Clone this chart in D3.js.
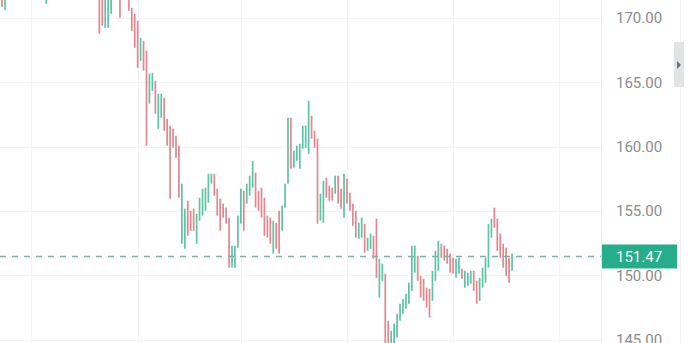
<!DOCTYPE html>
<html>
<head>
<meta charset="utf-8">
<script src="https://cdn.jsdelivr.net/npm/d3@7"></script>
<style>
  html, body { margin: 0; padding: 0; background: #fff; }
  svg { display: block; font-family: Roboto, "Noto Sans", sans-serif; }
</style>
</head>
<body>
<div id="chart"></div>
<script>
// price bars, oldest first (the first ~40 bars sit mostly above the visible range)
const highs = [
  171.8, 171.6,
  172.6, 173.0, 173.4, 173.1, 172.8, 173.3, 173.7, 174.0, 173.6, 173.2, 172.9, 172.5, 172.3,
  172.0,
  172.4, 172.9, 173.3, 173.6, 173.2, 172.8, 173.1, 173.5, 173.9, 173.4, 173.0, 172.6, 172.9, 173.2, 172.8, 172.5, 172.2,
  171.9, 171.7, 172.0, 171.8, 171.9, 172.4, 172.5, 171.8, 172.2, 172.3, 171.6,
  170.78, 170.31, 169.77, 168.45, 168.21, 167.44, 165.65, 165.73, 165.11, 164.10, 164.10, 163.79, 162.16, 161.62, 161.39, 160.84, 160.07, 157.12, 155.18, 155.80, 155.02, 155.18,
  154.79, 156.03, 156.73, 156.81, 157.89, 157.89, 157.89, 156.73, 155.96, 155.57, 155.26, 154.48, 152.31, 152.31, 154.64, 156.73, 156.57, 157.12, 157.74, 158.90, 157.97, 156.57, 156.81, 156.03, 154.64, 154.48, 154.24, 154.09, 155.02, 155.41, 157.12, 162.24, 162.24, 159.68, 160.07, 160.22,
  161.62, 161.62, 163.56, 162.39, 161.23, 160.61, 156.34, 157.35, 157.58, 156.96, 156.81, 157.74, 157.74, 156.73, 157.89, 157.51, 156.42, 155.57, 155.02, 154.09, 154.48, 154.01, 152.93, 153.24, 153.08, 154.40, 151.29, 150.91, 150.13, 146.48, 145.70, 146.25, 147.02,
  147.80, 148.18, 148.57, 149.43, 152.31, 152.31, 151.53, 149.97, 149.74, 149.04, 148.97, 150.36, 151.91, 152.69, 152.46, 152.31, 152.07, 151.69, 151.37, 151.29, 151.37, 150.52, 150.36, 150.21, 150.36, 150.36, 149.58, 149.82, 150.60, 151.37, 154.01, 154.40, 155.26, 154.40, 153.24, 152.46, 152.15, 151.37, 151.69
];
const lows = [
  170.85, 170.62,
  171.6, 172.0, 172.3, 172.2, 171.9, 172.3, 172.7, 173.0, 172.6, 172.2, 171.9, 171.6, 171.5,
  171.09,
  171.5, 171.9, 172.3, 172.6, 172.2, 171.8, 172.1, 172.5, 172.8, 172.4, 172.0, 171.7, 171.9, 172.2, 171.8, 171.6, 171.5,
  168.76, 169.38, 169.22, 169.22, 170.31, 171.5, 171.6, 170.0, 171.4, 171.5, 170.54,
  168.99, 167.67, 166.12, 166.66, 165.89, 160.07, 163.33, 164.33, 162.55, 161.39, 162.24, 161.23, 160.07, 155.96, 159.91, 159.13, 156.03, 152.46, 152.07, 153.08, 153.47, 153.47,
  152.46, 154.24, 154.64, 155.02, 155.65, 157.12, 156.19, 154.64, 153.47, 154.48, 154.02, 150.60, 150.60, 150.60, 152.15, 154.02, 153.47, 155.57, 156.19, 156.81, 155.26, 155.02, 154.48, 153.08, 152.93, 152.46, 151.69, 152.07, 151.69, 153.47, 155.26, 157.12, 158.28, 158.36, 158.90, 158.28,
  159.83, 159.91, 159.44, 160.61, 159.91, 154.01, 154.24, 154.09, 156.03, 155.80, 155.80, 156.34, 155.57, 155.18, 154.48, 155.57, 155.02, 153.85, 152.93, 152.85, 152.93, 151.76, 151.91, 152.07, 151.29, 149.81, 148.27, 149.58, 144.40, 144.10, 144.20, 144.50, 145.17,
  146.48, 147.02, 147.41, 147.80, 148.80, 150.21, 149.58, 148.27, 148.03, 147.49, 146.72, 148.03, 149.58, 150.36, 151.37, 151.14, 150.91, 150.21, 150.14, 149.82, 150.14, 149.74, 149.04, 149.20, 149.36, 148.80, 147.80, 148.03, 149.04, 149.43, 150.60, 152.93, 153.70, 151.91, 151.37, 150.60, 149.97, 149.43, 150.36
];
// g = closed up, r = closed down
const dirs = ("rg" + "grgrgrgrgrgrg" + "g" + "rgrgrgrgrgrgrgrgr" + "rrgggrrrgrr" +
  "rrrgrrggrggrrrrrrggrr" + "r" +
  "ggggggrrrrrrggggrgggrrrrrrgrrggg" + "rggg" +
  "gggrrrggrrrgrrgrrrrggrggrrggrrggg" +
  "ggggggrrrrrgggrrrrrggrgggrrgggggrrrrrrg").split("");

const lastPrice = 151.47;
const yTicks = [145, 150, 155, 160, 165, 170];
const timeGrid = [10, 46, 81, 117, 153, 189]; // bar index of the vertical grid lines

const W = 688, H = 343, plotRight = 601;

const svg = d3.select("#chart").append("svg")
  .attr("width", W).attr("height", H);

let x = d3.scaleLinear().domain([0, highs.length - 1]).range([2, 512]);
let y = d3.scaleLinear().domain([145, 170]).range([339.8, 17.8]);

svg.append("clipPath").attr("id", "plot")
  .append("rect").attr("x", 0).attr("y", 0).attr("width", plotRight).attr("height", H);

const plot = svg.append("g").attr("clip-path", "url(#plot)");

// grid
plot.selectAll(".hgrid").data(yTicks).enter().append("line")
  .attr("x1", 0).attr("x2", plotRight)
  .attr("y1", d => Math.round(y(d)) + 0.5).attr("y2", d => Math.round(y(d)) + 0.5)
  .attr("stroke", "#f2f3f5");
plot.selectAll(".vgrid").data(timeGrid).enter().append("line")
  .attr("x1", d => Math.round(x(d)) + 0.5).attr("x2", d => Math.round(x(d)) + 0.5)
  .attr("y1", 0).attr("y2", H)
  .attr("stroke", "#f2f3f5");

// bars
const bars = highs.map((h, i) => ({ i: i, high: h, low: lows[i], up: dirs[i] === "g" }));
plot.selectAll(".bar").data(bars).enter().append("rect")
  .attr("class", "bar")
  .attr("x", d => x(d.i) - 0.8)
  .attr("width", 1.7)
  .attr("y", d => y(d.high))
  .attr("height", d => Math.max(1, y(d.low) - y(d.high)))
  .attr("fill", d => d.up ? "#5cc3a3" : "#e3868d");

// last price line
plot.append("line")
  .attr("x1", 0).attr("x2", plotRight)
  .attr("y1", y(lastPrice)).attr("y2", y(lastPrice))
  .attr("stroke", "#7fb0a6")
  .attr("stroke-width", 1.5)
  .attr("stroke-dasharray", "6,6");

// price scale
svg.append("line")
  .attr("x1", plotRight + 0.5).attr("x2", plotRight + 0.5)
  .attr("y1", 0).attr("y2", H)
  .attr("stroke", "#e6e8ec");

svg.selectAll(".tick-label").data(yTicks).enter().append("text")
  .attr("x", 616).attr("y", d => y(d))
  .attr("dy", "0.36em")
  .attr("font-size", 15)
  .attr("fill", "#8c8c8c")
  .text(d => d3.format(".2f")(d));

svg.append("rect")
  .attr("x", 602).attr("y", y(lastPrice) - 12)
  .attr("width", 75).attr("height", 24)
  .attr("fill", "#26ad8a");
svg.append("text")
  .attr("x", 616).attr("y", y(lastPrice))
  .attr("dy", "0.36em")
  .attr("font-size", 15)
  .attr("fill", "#fff")
  .text(d3.format(".2f")(lastPrice));

// scroll handle at the right edge
svg.append("line")
  .attr("x1", 680.5).attr("x2", 680.5).attr("y1", 0).attr("y2", H)
  .attr("stroke", "#eeeeee");
svg.append("rect")
  .attr("x", 674).attr("y", 42).attr("width", 10).attr("height", 45)
  .attr("fill", "#e2e3e5");
svg.append("path")
  .attr("d", "M677,61 L681,65 L677,69 Z")
  .attr("fill", "#707070");
</script>
</body>
</html>
